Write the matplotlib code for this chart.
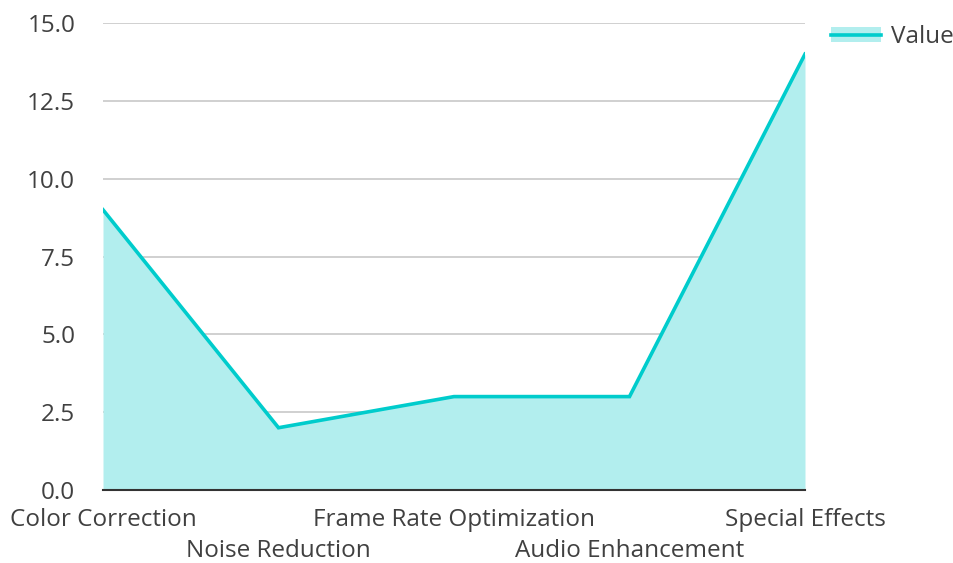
import matplotlib.pyplot as plt
from matplotlib.patches import Patch
from matplotlib.lines import Line2D

categories = ["Color Correction", "Noise Reduction", "Frame Rate Optimization",
              "Audio Enhancement", "Special Effects"]
values = [9, 2, 3, 3, 14]
y_ticks = [0.0, 2.5, 5.0, 7.5, 10.0, 12.5, 15.0]

plt.rcParams['font.family'] = ['Open Sans', 'DejaVu Sans']
text_color = "#404040"
fs = 17.5

fig = plt.figure(figsize=(9.54, 5.63), dpi=100)
ax = fig.add_axes([103 / 954, 1 - 490 / 563, 702 / 954, 467 / 563])

x = list(range(len(categories)))
ax.fill_between(x, values, 0, color="#b2eeee", linewidth=0, zorder=2)
ax.plot(x, values, color="#00cccc", linewidth=2.6, zorder=3, solid_joinstyle="miter")

ax.set_xlim(0, len(categories) - 1)
ax.set_ylim(0, 15)
ax.set_yticks(y_ticks)
ax.set_yticklabels([f"{t:.1f}" for t in y_ticks])
ax.grid(axis="y", color="#c8c8c8", linewidth=1.2, zorder=1)
ax.set_axisbelow(True)

# staggered category labels: even ones on major ticks, odd ones on minor ticks (lower row)
ax.set_xticks(x[0::2])
ax.set_xticklabels(categories[0::2])
ax.set_xticks(x[1::2], minor=True)
ax.set_xticklabels(categories[1::2], minor=True)

ax.tick_params(axis="both", which="both", length=0, labelsize=fs, colors=text_color)
ax.tick_params(axis="y", pad=20)
ax.tick_params(axis="x", which="major", pad=13)
ax.tick_params(axis="x", which="minor", pad=35)

for side in ["top", "right", "left"]:
    ax.spines[side].set_visible(False)
ax.spines["bottom"].set_color("#333333")
ax.spines["bottom"].set_linewidth(1.5)
ax.spines["bottom"].set_zorder(4)

handle = (Patch(facecolor="#b2eeee", edgecolor="none"),
          Line2D([], [], color="#00cccc", linewidth=2.6))
fig.legend([handle], ["Value"], loc="upper left", bbox_to_anchor=(831 / 954, 1 - 25 / 563),
           frameon=False, fontsize=fs, labelcolor=text_color, borderpad=0, borderaxespad=0,
           handlelength=2.05, handleheight=0.6, handletextpad=0.42)

fig.savefig("out.png", dpi=100)
